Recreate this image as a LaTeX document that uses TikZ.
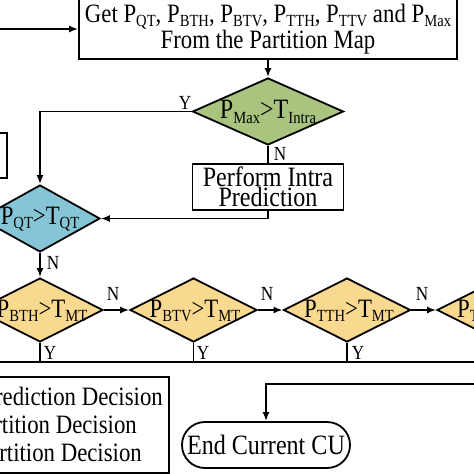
\documentclass[tikz,border=0pt]{standalone}
\usepackage{fontspec}
\setmainfont[FakeStretch=0.86]{Liberation Serif}
\usetikzlibrary{arrows.meta,shapes.geometric}
\definecolor{dgreen}{HTML}{A9C47F}
\definecolor{dblue}{HTML}{86C5D5}
\definecolor{dyellow}{HTML}{F8D98F}
\newcommand\sbx[1]{\raisebox{-4.5pt}{\fontsize{17}{17}\selectfont #1}}
\begin{document}
\begin{tikzpicture}[x=1pt,y=-1pt,
  every node/.style={font=\fontsize{26.5}{26}\selectfont},
  ln/.style={line width=1.8pt},
  arr/.style={ln,-{Latex[length=9pt,width=7pt]}},
  boxn/.style={draw,ln,inner sep=0pt,align=center},
  dia/.style={draw,ln,diamond,inner sep=0pt},
  lab/.style={font=\fontsize{20}{20}\selectfont,inner sep=0pt}]
\useasboundingbox (0,0) rectangle (474,474);
\clip (0,0) rectangle (474,474);
% top box
\node[boxn,minimum width=378pt,minimum height=60pt] (get) at (268,29)
  {Get P\sbx{QT}, P\sbx{BTH}, P\sbx{BTV}, P\sbx{TTH}, P\sbx{TTV} and P\sbx{Max}\\[0pt] From the Partition Map};
\coordinate (inL) at (-10,29);
\draw[arr] (inL) -- (get.west);
% green diamond
\node[dia,fill=dgreen,minimum width=151pt,minimum height=67pt] (gm) at (268,111.5) {};
\node[font=\fontsize{28}{28}\selectfont] (gmt) at (268,112) {P\sbx{Max}>T\sbx{Intra}};
\draw[arr] (get.south) -- (gm.north);
% left partial box
\node[boxn,minimum width=70pt,minimum height=45pt] (lb) at (-28,155.5) {};
% perform intra
\node[boxn,minimum width=151pt,minimum height=46pt,font=\fontsize{28}{28}\selectfont] (pip) at (268,187) {Perform Intra\\[-7.5pt]Prediction};
\draw[ln] (gm.south) -- (pip.north);
% QT diamond
\node[dia,fill=dblue,minimum width=120pt,minimum height=67pt] (qt) at (40,218.5) {};
\node (qtt) at (40,219) {P\sbx{QT}>T\sbx{QT}};
\draw[arr] (gm.west) -| (qt.north);
\draw[arr] (pip.south) |- (qt.east);
% MT diamonds
\node[dia,fill=dyellow,minimum width=126pt,minimum height=64pt] (bth) at (40,310) {};
\node[dia,fill=dyellow,minimum width=127pt,minimum height=64pt] (btv) at (193.5,310) {};
\node[dia,fill=dyellow,minimum width=127pt,minimum height=64pt] (tth) at (347,310) {};
\node[dia,fill=dyellow,minimum width=127pt,minimum height=64pt] (ttv) at (500.5,310) {};
\node (btht) at (42,311) {P\sbx{BTH}>T\sbx{MT}};
\node (btvt) at (195,311) {P\sbx{BTV}>T\sbx{MT}};
\node (ttht) at (349,311) {P\sbx{TTH}>T\sbx{MT}};
\node (ttvt) at (502,311) {P\sbx{TTV}>T\sbx{MT}};
\draw[arr] (qt.south) -- (bth.north);
\draw[arr] (bth.east) -- (btv.west);
\draw[arr] (btv.east) -- (tth.west);
\draw[arr] (tth.east) -- (ttv.west);
% Y bus
\coordinate (busL) at (-10,362);
\coordinate (busR) at (484,362);
\draw[ln] (busL) -- (busR);
\draw[ln] (bth.south) -- (bth.south |- busL);
\draw[ln] (btv.south) -- (btv.south |- busL);
\draw[ln] (tth.south) -- (tth.south |- busL);
% end
\node[draw,ln,rounded corners=22.9pt,minimum width=168pt,minimum height=46pt,inner sep=0pt,font=\fontsize{28}{28}\selectfont] (end) at (266,445) {End Current CU};
\coordinate (c2) at (484,384);
\draw[arr] (c2) -| (end.north);
% legend
\node[boxn,anchor=north east,minimum width=240pt,minimum height=96pt] (leg) at (170,376) {};
\node[anchor=base east,inner sep=0pt] (l1) at (163,405) {Prediction Decision};
\node[anchor=base east,inner sep=0pt] (l2) at (137,433) {Partition Decision};
\node[anchor=base east,inner sep=0pt] (l3) at (142,461) {Partition Decision};
% labels
\node[lab] (y1) at (185,103) {Y};
\node[lab] (n1) at (280,154) {N};
\node[lab] (n2) at (53,263) {N};
\node[lab] (n3) at (113,294) {N};
\node[lab] (n4) at (267,294) {N};
\node[lab] (n5) at (422,294) {N};
\node[lab] (y2) at (50,353) {Y};
\node[lab] (y3) at (203,353) {Y};
\node[lab] (y4) at (358,353) {Y};
\end{tikzpicture}
\end{document}
